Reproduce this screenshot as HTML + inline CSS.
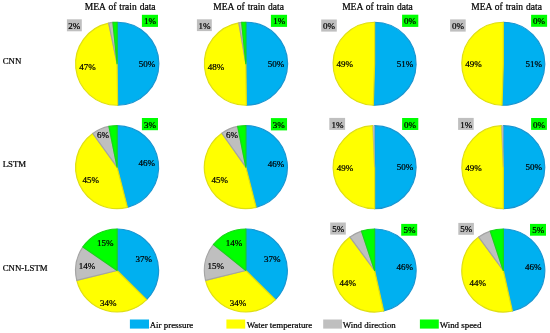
<!DOCTYPE html><html><head><meta charset="utf-8"><style>html,body{margin:0;padding:0;background:#fff}svg{display:block}text{font-family:"Liberation Serif","Times New Roman",serif;fill:#000;stroke:#000;stroke-width:0.22px}</style></head><body>
<svg width="550" height="333" viewBox="0 0 550 333">
<rect width="550" height="333" fill="#fff"/>
<text x="120.2" y="9.8" font-size="9.5" word-spacing="0.6" text-anchor="middle">MEA of train data</text>
<text x="248.6" y="9.8" font-size="9.5" word-spacing="0.6" text-anchor="middle">MEA of train data</text>
<text x="377.5" y="9.8" font-size="9.5" word-spacing="0.6" text-anchor="middle">MEA of train data</text>
<text x="506.6" y="9.8" font-size="9.5" word-spacing="0.6" text-anchor="middle">MEA of train data</text>
<text x="2.7" y="64.1" font-size="8.8">CNN</text>
<text x="2.7" y="167.3" font-size="8.8">LSTM</text>
<text x="2.7" y="270.5" font-size="8.8">CNN-LSTM</text>
<path d="M117.1,63.75 L117.10,22.25 A41.5,41.5 0 0 1 117.62,105.25 Z" fill="#00b0f0" stroke="#1896d2" stroke-width="1.2" stroke-linejoin="round"/>
<path d="M117.1,63.75 L117.62,105.25 A41.5,41.5 0 0 1 108.68,23.11 Z" fill="#ffff00" stroke="#dfdf12" stroke-width="1.2" stroke-linejoin="round"/>
<path d="M117.1,63.75 L108.68,23.11 A41.5,41.5 0 0 1 112.93,22.46 Z" fill="#bfbfbf" stroke="#a4a4a4" stroke-width="1.2" stroke-linejoin="round"/>
<path d="M117.1,63.75 L112.93,22.46 A41.5,41.5 0 0 1 117.10,22.25 Z" fill="#00ff00" stroke="#16d816" stroke-width="1.2" stroke-linejoin="round"/>
<path d="M245.85,63.75 L245.85,22.25 A41.5,41.5 0 0 1 246.37,105.25 Z" fill="#00b0f0" stroke="#1896d2" stroke-width="1.2" stroke-linejoin="round"/>
<path d="M245.85,63.75 L246.37,105.25 A41.5,41.5 0 0 1 238.84,22.85 Z" fill="#ffff00" stroke="#dfdf12" stroke-width="1.2" stroke-linejoin="round"/>
<path d="M245.85,63.75 L238.84,22.85 A41.5,41.5 0 0 1 241.68,22.46 Z" fill="#bfbfbf" stroke="#a4a4a4" stroke-width="1.2" stroke-linejoin="round"/>
<path d="M245.85,63.75 L241.68,22.46 A41.5,41.5 0 0 1 245.85,22.25 Z" fill="#00ff00" stroke="#16d816" stroke-width="1.2" stroke-linejoin="round"/>
<path d="M374.6,63.75 L374.60,22.25 A41.5,41.5 0 1 1 373.30,105.23 Z" fill="#00b0f0" stroke="#1896d2" stroke-width="1.2" stroke-linejoin="round"/>
<path d="M374.6,63.75 L373.30,105.23 A41.5,41.5 0 0 1 374.60,22.25 Z" fill="#ffff00" stroke="#dfdf12" stroke-width="1.2" stroke-linejoin="round"/>
<path d="M503.3,63.75 L503.30,22.25 A41.5,41.5 0 1 1 502.00,105.23 Z" fill="#00b0f0" stroke="#1896d2" stroke-width="1.2" stroke-linejoin="round"/>
<path d="M503.3,63.75 L502.00,105.23 A41.5,41.5 0 0 1 503.30,22.25 Z" fill="#ffff00" stroke="#dfdf12" stroke-width="1.2" stroke-linejoin="round"/>
<path d="M117.1,167.15 L117.10,125.65 A41.5,41.5 0 0 1 127.42,207.35 Z" fill="#00b0f0" stroke="#1896d2" stroke-width="1.2" stroke-linejoin="round"/>
<path d="M117.1,167.15 L127.42,207.35 A41.5,41.5 0 0 1 92.81,133.50 Z" fill="#ffff00" stroke="#dfdf12" stroke-width="1.2" stroke-linejoin="round"/>
<path d="M117.1,167.15 L92.81,133.50 A41.5,41.5 0 0 1 108.94,126.46 Z" fill="#bfbfbf" stroke="#a4a4a4" stroke-width="1.2" stroke-linejoin="round"/>
<path d="M117.1,167.15 L108.94,126.46 A41.5,41.5 0 0 1 117.10,125.65 Z" fill="#00ff00" stroke="#16d816" stroke-width="1.2" stroke-linejoin="round"/>
<path d="M245.85,167.15 L245.85,125.65 A41.5,41.5 0 0 1 256.17,207.35 Z" fill="#00b0f0" stroke="#1896d2" stroke-width="1.2" stroke-linejoin="round"/>
<path d="M245.85,167.15 L256.17,207.35 A41.5,41.5 0 0 1 221.88,133.27 Z" fill="#ffff00" stroke="#dfdf12" stroke-width="1.2" stroke-linejoin="round"/>
<path d="M245.85,167.15 L221.88,133.27 A41.5,41.5 0 0 1 237.69,126.46 Z" fill="#bfbfbf" stroke="#a4a4a4" stroke-width="1.2" stroke-linejoin="round"/>
<path d="M245.85,167.15 L237.69,126.46 A41.5,41.5 0 0 1 245.85,125.65 Z" fill="#00ff00" stroke="#16d816" stroke-width="1.2" stroke-linejoin="round"/>
<path d="M374.6,167.15 L374.60,125.65 A41.5,41.5 0 0 1 374.60,208.65 Z" fill="#00b0f0" stroke="#1896d2" stroke-width="1.2" stroke-linejoin="round"/>
<path d="M374.6,167.15 L374.60,208.65 A41.5,41.5 0 0 1 372.78,125.69 Z" fill="#ffff00" stroke="#dfdf12" stroke-width="1.2" stroke-linejoin="round"/>
<path d="M374.6,167.15 L372.78,125.69 A41.5,41.5 0 0 1 374.60,125.65 Z" fill="#bfbfbf" stroke="#a4a4a4" stroke-width="0.3" stroke-linejoin="round"/>
<path d="M503.3,167.15 L503.30,125.65 A41.5,41.5 0 0 1 503.30,208.65 Z" fill="#00b0f0" stroke="#1896d2" stroke-width="1.2" stroke-linejoin="round"/>
<path d="M503.3,167.15 L503.30,208.65 A41.5,41.5 0 0 1 501.48,125.69 Z" fill="#ffff00" stroke="#dfdf12" stroke-width="1.2" stroke-linejoin="round"/>
<path d="M503.3,167.15 L501.48,125.69 A41.5,41.5 0 0 1 503.30,125.65 Z" fill="#bfbfbf" stroke="#a4a4a4" stroke-width="0.3" stroke-linejoin="round"/>
<path d="M117.1,270.5 L117.10,229.00 A41.5,41.5 0 0 1 146.63,299.66 Z" fill="#00b0f0" stroke="#1896d2" stroke-width="1.2" stroke-linejoin="round"/>
<path d="M117.1,270.5 L146.63,299.66 A41.5,41.5 0 0 1 76.78,280.31 Z" fill="#ffff00" stroke="#dfdf12" stroke-width="1.2" stroke-linejoin="round"/>
<path d="M117.1,270.5 L76.78,280.31 A41.5,41.5 0 0 1 82.92,246.96 Z" fill="#bfbfbf" stroke="#a4a4a4" stroke-width="1.2" stroke-linejoin="round"/>
<path d="M117.1,270.5 L82.92,246.96 A41.5,41.5 0 0 1 117.10,229.00 Z" fill="#00ff00" stroke="#16d816" stroke-width="1.2" stroke-linejoin="round"/>
<path d="M245.85,270.5 L245.85,229.00 A41.5,41.5 0 0 1 275.38,299.66 Z" fill="#00b0f0" stroke="#1896d2" stroke-width="1.2" stroke-linejoin="round"/>
<path d="M245.85,270.5 L275.38,299.66 A41.5,41.5 0 0 1 205.53,280.31 Z" fill="#ffff00" stroke="#dfdf12" stroke-width="1.2" stroke-linejoin="round"/>
<path d="M245.85,270.5 L205.53,280.31 A41.5,41.5 0 0 1 213.54,244.45 Z" fill="#bfbfbf" stroke="#a4a4a4" stroke-width="1.2" stroke-linejoin="round"/>
<path d="M245.85,270.5 L213.54,244.45 A41.5,41.5 0 0 1 245.85,229.00 Z" fill="#00ff00" stroke="#16d816" stroke-width="1.2" stroke-linejoin="round"/>
<path d="M374.6,270.5 L374.60,229.00 A41.5,41.5 0 0 1 383.65,311.00 Z" fill="#00b0f0" stroke="#1896d2" stroke-width="1.2" stroke-linejoin="round"/>
<path d="M374.6,270.5 L383.65,311.00 A41.5,41.5 0 0 1 350.00,237.08 Z" fill="#ffff00" stroke="#dfdf12" stroke-width="1.2" stroke-linejoin="round"/>
<path d="M374.6,270.5 L350.00,237.08 A41.5,41.5 0 0 1 361.53,231.11 Z" fill="#bfbfbf" stroke="#a4a4a4" stroke-width="1.2" stroke-linejoin="round"/>
<path d="M374.6,270.5 L361.53,231.11 A41.5,41.5 0 0 1 374.60,229.00 Z" fill="#00ff00" stroke="#16d816" stroke-width="1.2" stroke-linejoin="round"/>
<path d="M503.3,270.5 L503.30,229.00 A41.5,41.5 0 0 1 512.35,311.00 Z" fill="#00b0f0" stroke="#1896d2" stroke-width="1.2" stroke-linejoin="round"/>
<path d="M503.3,270.5 L512.35,311.00 A41.5,41.5 0 0 1 478.70,237.08 Z" fill="#ffff00" stroke="#dfdf12" stroke-width="1.2" stroke-linejoin="round"/>
<path d="M503.3,270.5 L478.70,237.08 A41.5,41.5 0 0 1 490.23,231.11 Z" fill="#bfbfbf" stroke="#a4a4a4" stroke-width="1.2" stroke-linejoin="round"/>
<path d="M503.3,270.5 L490.23,231.11 A41.5,41.5 0 0 1 503.30,229.00 Z" fill="#00ff00" stroke="#16d816" stroke-width="1.2" stroke-linejoin="round"/>
<rect x="66.9" y="19.3" width="14.90" height="12.00" fill="#bfbfbf"/>
<text x="74.3" y="28.6" font-size="9" text-anchor="middle">2%</text>
<rect x="141.9" y="14.8" width="16.10" height="12.10" fill="#00ff00"/>
<text x="150" y="23.8" font-size="9" text-anchor="middle">1%</text>
<rect x="196.9" y="19.3" width="14.90" height="11.80" fill="#bfbfbf"/>
<text x="204.5" y="28.5" font-size="9" text-anchor="middle">1%</text>
<rect x="270.9" y="14.8" width="16.15" height="12.10" fill="#00ff00"/>
<text x="279.2" y="23.8" font-size="9" text-anchor="middle">1%</text>
<rect x="321.2" y="19.5" width="15.60" height="12.10" fill="#bfbfbf"/>
<text x="329" y="28.8" font-size="9" text-anchor="middle">0%</text>
<rect x="402.1" y="14.7" width="16.20" height="12.20" fill="#00ff00"/>
<text x="410.1" y="23.6" font-size="9" text-anchor="middle">0%</text>
<rect x="450.1" y="19.4" width="15.60" height="12.20" fill="#bfbfbf"/>
<text x="457.9" y="28.5" font-size="9" text-anchor="middle">0%</text>
<rect x="531.1" y="14.8" width="16.00" height="12.00" fill="#00ff00"/>
<text x="538.9" y="23.6" font-size="9" text-anchor="middle">0%</text>
<rect x="141.9" y="118" width="16.10" height="12.20" fill="#00ff00"/>
<text x="150" y="127.7" font-size="9" text-anchor="middle">3%</text>
<rect x="270.9" y="118.1" width="16.15" height="12.30" fill="#00ff00"/>
<text x="278.8" y="127.7" font-size="9" text-anchor="middle">3%</text>
<rect x="329.3" y="117.9" width="15.80" height="12.00" fill="#bfbfbf"/>
<text x="337.6" y="127.5" font-size="9" text-anchor="middle">1%</text>
<rect x="402.1" y="118" width="16.20" height="12.00" fill="#00ff00"/>
<text x="410.1" y="127.5" font-size="9" text-anchor="middle">0%</text>
<rect x="458.1" y="117.9" width="15.60" height="12.00" fill="#bfbfbf"/>
<text x="466.2" y="127.5" font-size="9" text-anchor="middle">1%</text>
<rect x="531.1" y="118" width="15.80" height="11.90" fill="#00ff00"/>
<text x="538.9" y="127.5" font-size="9" text-anchor="middle">0%</text>
<rect x="330.2" y="222.5" width="15.60" height="12.10" fill="#bfbfbf"/>
<text x="338.3" y="231.9" font-size="9" text-anchor="middle">5%</text>
<rect x="401.2" y="223.9" width="16.00" height="11.80" fill="#00ff00"/>
<text x="409.4" y="233" font-size="9" text-anchor="middle">5%</text>
<rect x="458.3" y="222.9" width="15.60" height="11.90" fill="#bfbfbf"/>
<text x="466.3" y="232.4" font-size="9" text-anchor="middle">5%</text>
<rect x="530" y="223.9" width="16.00" height="11.80" fill="#00ff00"/>
<text x="538.2" y="233.2" font-size="9" text-anchor="middle">5%</text>
<text x="147" y="66.5" font-size="9" text-anchor="middle">50%</text>
<text x="87.4" y="70" font-size="9" text-anchor="middle">47%</text>
<text x="276" y="66.6" font-size="9" text-anchor="middle">50%</text>
<text x="216.1" y="69.9" font-size="9" text-anchor="middle">48%</text>
<text x="405" y="67.4" font-size="9" text-anchor="middle">51%</text>
<text x="344.7" y="66.6" font-size="9" text-anchor="middle">49%</text>
<text x="533.8" y="67.4" font-size="9" text-anchor="middle">51%</text>
<text x="473.5" y="66.6" font-size="9" text-anchor="middle">49%</text>
<text x="146.8" y="166.4" font-size="9" text-anchor="middle">46%</text>
<text x="90.8" y="183" font-size="9" text-anchor="middle">45%</text>
<text x="103" y="137.5" font-size="9" text-anchor="middle">6%</text>
<text x="276" y="166.6" font-size="9" text-anchor="middle">46%</text>
<text x="219.8" y="183" font-size="9" text-anchor="middle">45%</text>
<text x="231.9" y="137.5" font-size="9" text-anchor="middle">6%</text>
<text x="405" y="170" font-size="9" text-anchor="middle">50%</text>
<text x="344.9" y="171" font-size="9" text-anchor="middle">49%</text>
<text x="533.8" y="170" font-size="9" text-anchor="middle">50%</text>
<text x="473.5" y="171" font-size="9" text-anchor="middle">49%</text>
<text x="143.8" y="262.4" font-size="9" text-anchor="middle">37%</text>
<text x="108.2" y="306.4" font-size="9" text-anchor="middle">34%</text>
<text x="87" y="268.6" font-size="9" text-anchor="middle">14%</text>
<text x="105.2" y="246" font-size="9" text-anchor="middle">15%</text>
<text x="272.3" y="262" font-size="9" text-anchor="middle">37%</text>
<text x="238" y="306.4" font-size="9" text-anchor="middle">34%</text>
<text x="215.7" y="268.6" font-size="9" text-anchor="middle">15%</text>
<text x="234" y="245.6" font-size="9" text-anchor="middle">14%</text>
<text x="404.8" y="270" font-size="9" text-anchor="middle">46%</text>
<text x="347.8" y="285.6" font-size="9" text-anchor="middle">44%</text>
<text x="533.2" y="270" font-size="9" text-anchor="middle">46%</text>
<text x="477.7" y="286" font-size="9" text-anchor="middle">44%</text>
<rect x="129.9" y="319.5" width="19.1" height="9.1" fill="#00b0f0"/>
<text x="149.7" y="328.1" font-size="8.9">Air pressure</text>
<rect x="226.4" y="319.5" width="18.8" height="9.1" fill="#ffff00"/>
<text x="246.7" y="328.1" font-size="8.9">Water temperature</text>
<rect x="323.2" y="319.5" width="18.8" height="9.1" fill="#bfbfbf"/>
<text x="342.7" y="328.1" font-size="8.9">Wind direction</text>
<rect x="419.9" y="319.5" width="18.9" height="9.1" fill="#00ff00"/>
<text x="439.7" y="328.1" font-size="8.9">Wind speed</text>
</svg></body></html>
